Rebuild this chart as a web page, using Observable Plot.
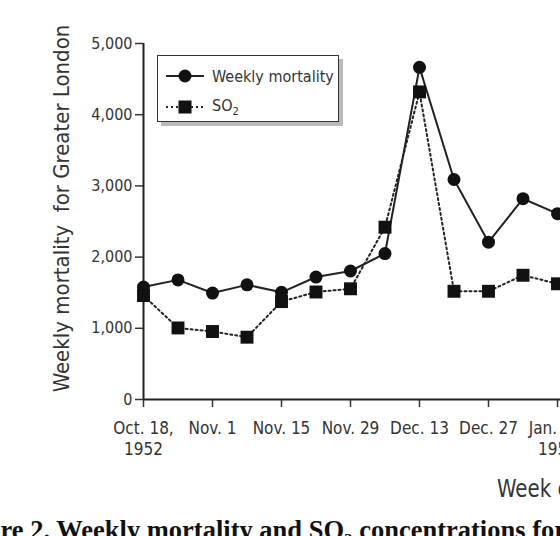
<!DOCTYPE html>
<html>
<head>
<meta charset="utf-8">
<script src="https://cdn.jsdelivr.net/npm/d3@7"></script>
<script src="https://cdn.jsdelivr.net/npm/@observablehq/plot@0.6"></script>
<style>
  body { margin: 0; background: #fff; }
  #wrap { position: relative; width: 560px; height: 536px; overflow: hidden; background: #fff; }
  #chart { position: absolute; left: 0; top: 0; width: 715px; }
  #chart svg { max-width: none !important; }
  .cond { font-family: "Liberation Sans Narrow", "DejaVu Sans Condensed", "Roboto", sans-serif; font-stretch: condensed; }
  #legend { position: absolute; left: 157px; top: 55px; width: 182px; height: 67px; border: 1.5px solid #333; background: #fff; box-shadow: 4px 4px 0 #bbb; box-sizing: border-box; }
  #legend .row { position: absolute; left: 6px; height: 20px; display: flex; align-items: center; font-size: 16px; color: #333; }
  #xlabel { position: absolute; left: 497px; top: 474px; font-size: 25px; color: #333; white-space: nowrap; transform: scaleX(0.88); transform-origin: left center; }
  #caption { position: absolute; left: -51px; top: 517px; line-height: 26px; font-family: "Liberation Serif", "DejaVu Serif", serif; font-weight: bold; font-size: 26.5px; color: #111; white-space: nowrap; }
</style>
</head>
<body>
<div id="wrap">
  <div id="chart"></div>
  <div id="legend" class="cond">
    <div class="row" style="top:10px">
      <svg width="42" height="20"><line x1="2" x2="40" y1="10" y2="10" stroke="#222" stroke-width="2"/><circle cx="21" cy="10" r="6.5" fill="#111"/></svg>
      <span style="margin-left:6px">Weekly mortality</span>
    </div>
    <div class="row" style="top:41px">
      <svg width="42" height="20"><line x1="2" x2="40" y1="10" y2="10" stroke="#222" stroke-width="2" stroke-dasharray="2,3"/><rect x="14.5" y="3.5" width="13" height="13" fill="#111"/></svg>
      <span style="margin-left:6px">SO<sub style="font-size:11px">2</sub></span>
    </div>
  </div>
  <div id="xlabel" class="cond">Week ending</div>
  <div id="caption">Figure 2. Weekly mortality and SO<sub style="font-size:17px;line-height:0">2</sub> concentrations for Greater London, 1952–1953.</div>
</div>
<script>
// weeks ending, Oct 18 1952 .. Jan 10 1953
const weeks = ["1952-10-18", "1952-10-25", "1952-11-01", "1952-11-08", "1952-11-15", "1952-11-22",
  "1952-11-29", "1952-12-06", "1952-12-13", "1952-12-20", "1952-12-27", "1953-01-03", "1953-01-10"];
const mortality = [1580, 1680, 1495, 1610, 1505, 1720, 1805, 2050, 4665, 3090, 2210, 2820, 2610];
const so2 = [1460, 1005, 955, 875, 1375, 1510, 1555, 2420, 4320, 1520, 1520, 1745, 1625];

const tickDates = ["1952-10-18", "1952-11-01", "1952-11-15", "1952-11-29", "1952-12-13", "1952-12-27", "1953-01-10"];
const tickLabels = ["Oct. 18,\n1952", "Nov. 1", "Nov. 15", "Nov. 29", "Dec. 13", "Dec. 27", "Jan. 10,\n1953"];
const yTicks = [0, 1000, 2000, 3000, 4000, 5000];

const yLabel = "Weekly mortality  for Greater London";

const parse = d3.utcParse("%Y-%m-%d");
const rows = weeks.map((w, i) => ({date: parse(w), mortality: mortality[i], so2: so2[i]}));
const ticks = tickDates.map(parse);
const labelOf = new Map(ticks.map((t, i) => [+t, tickLabels[i]]));

const chart = Plot.plot({
  width: 715,
  height: 460,
  marginLeft: 143,
  marginRight: 20,
  marginTop: 43,
  marginBottom: 61,
  style: {fontFamily: '"Liberation Sans Narrow", "DejaVu Sans Condensed", sans-serif', fontStretch: "condensed", color: "#333", background: "transparent", overflow: "visible"},
  x: {type: "utc", domain: [parse("1952-10-18"), parse("1953-02-07")]},
  y: {domain: [0, 5000]},
  marks: [
    Plot.axisY({ticks: yTicks, tickFormat: d3.format(","), tickSize: 8, tickPadding: 3, fontSize: 16, label: null, strokeWidth: 1.5}),
    Plot.axisX({ticks: ticks, tickFormat: d => labelOf.get(+d), tickSize: 8, tickPadding: 12, fontSize: 17, label: null, strokeWidth: 1.5, lineHeight: 1.22}),
    Plot.ruleX([0], {x: () => parse("1952-10-18"), y1: 0, y2: 5000, stroke: "#222", strokeWidth: 2}),
    Plot.ruleY([0], {stroke: "#222", strokeWidth: 2}),
    Plot.text([yLabel], {frameAnchor: "left", rotate: -90, dx: -82, dy: -13, textAnchor: "middle", lineAnchor: "middle", fontSize: 22, fill: "#333"}),
    Plot.line(rows, {x: "date", y: "so2", stroke: "#222", strokeWidth: 2, strokeDasharray: "2,3"}),
    Plot.line(rows, {x: "date", y: "mortality", stroke: "#222", strokeWidth: 2}),
    Plot.dot(rows, {x: "date", y: "so2", symbol: "square", r: 7.3, fill: "#111", stroke: "none"}),
    Plot.dot(rows, {x: "date", y: "mortality", r: 6.5, fill: "#111", stroke: "none"})
  ]
});

d3.select("#chart").append(() => chart);
</script>
</body>
</html>
